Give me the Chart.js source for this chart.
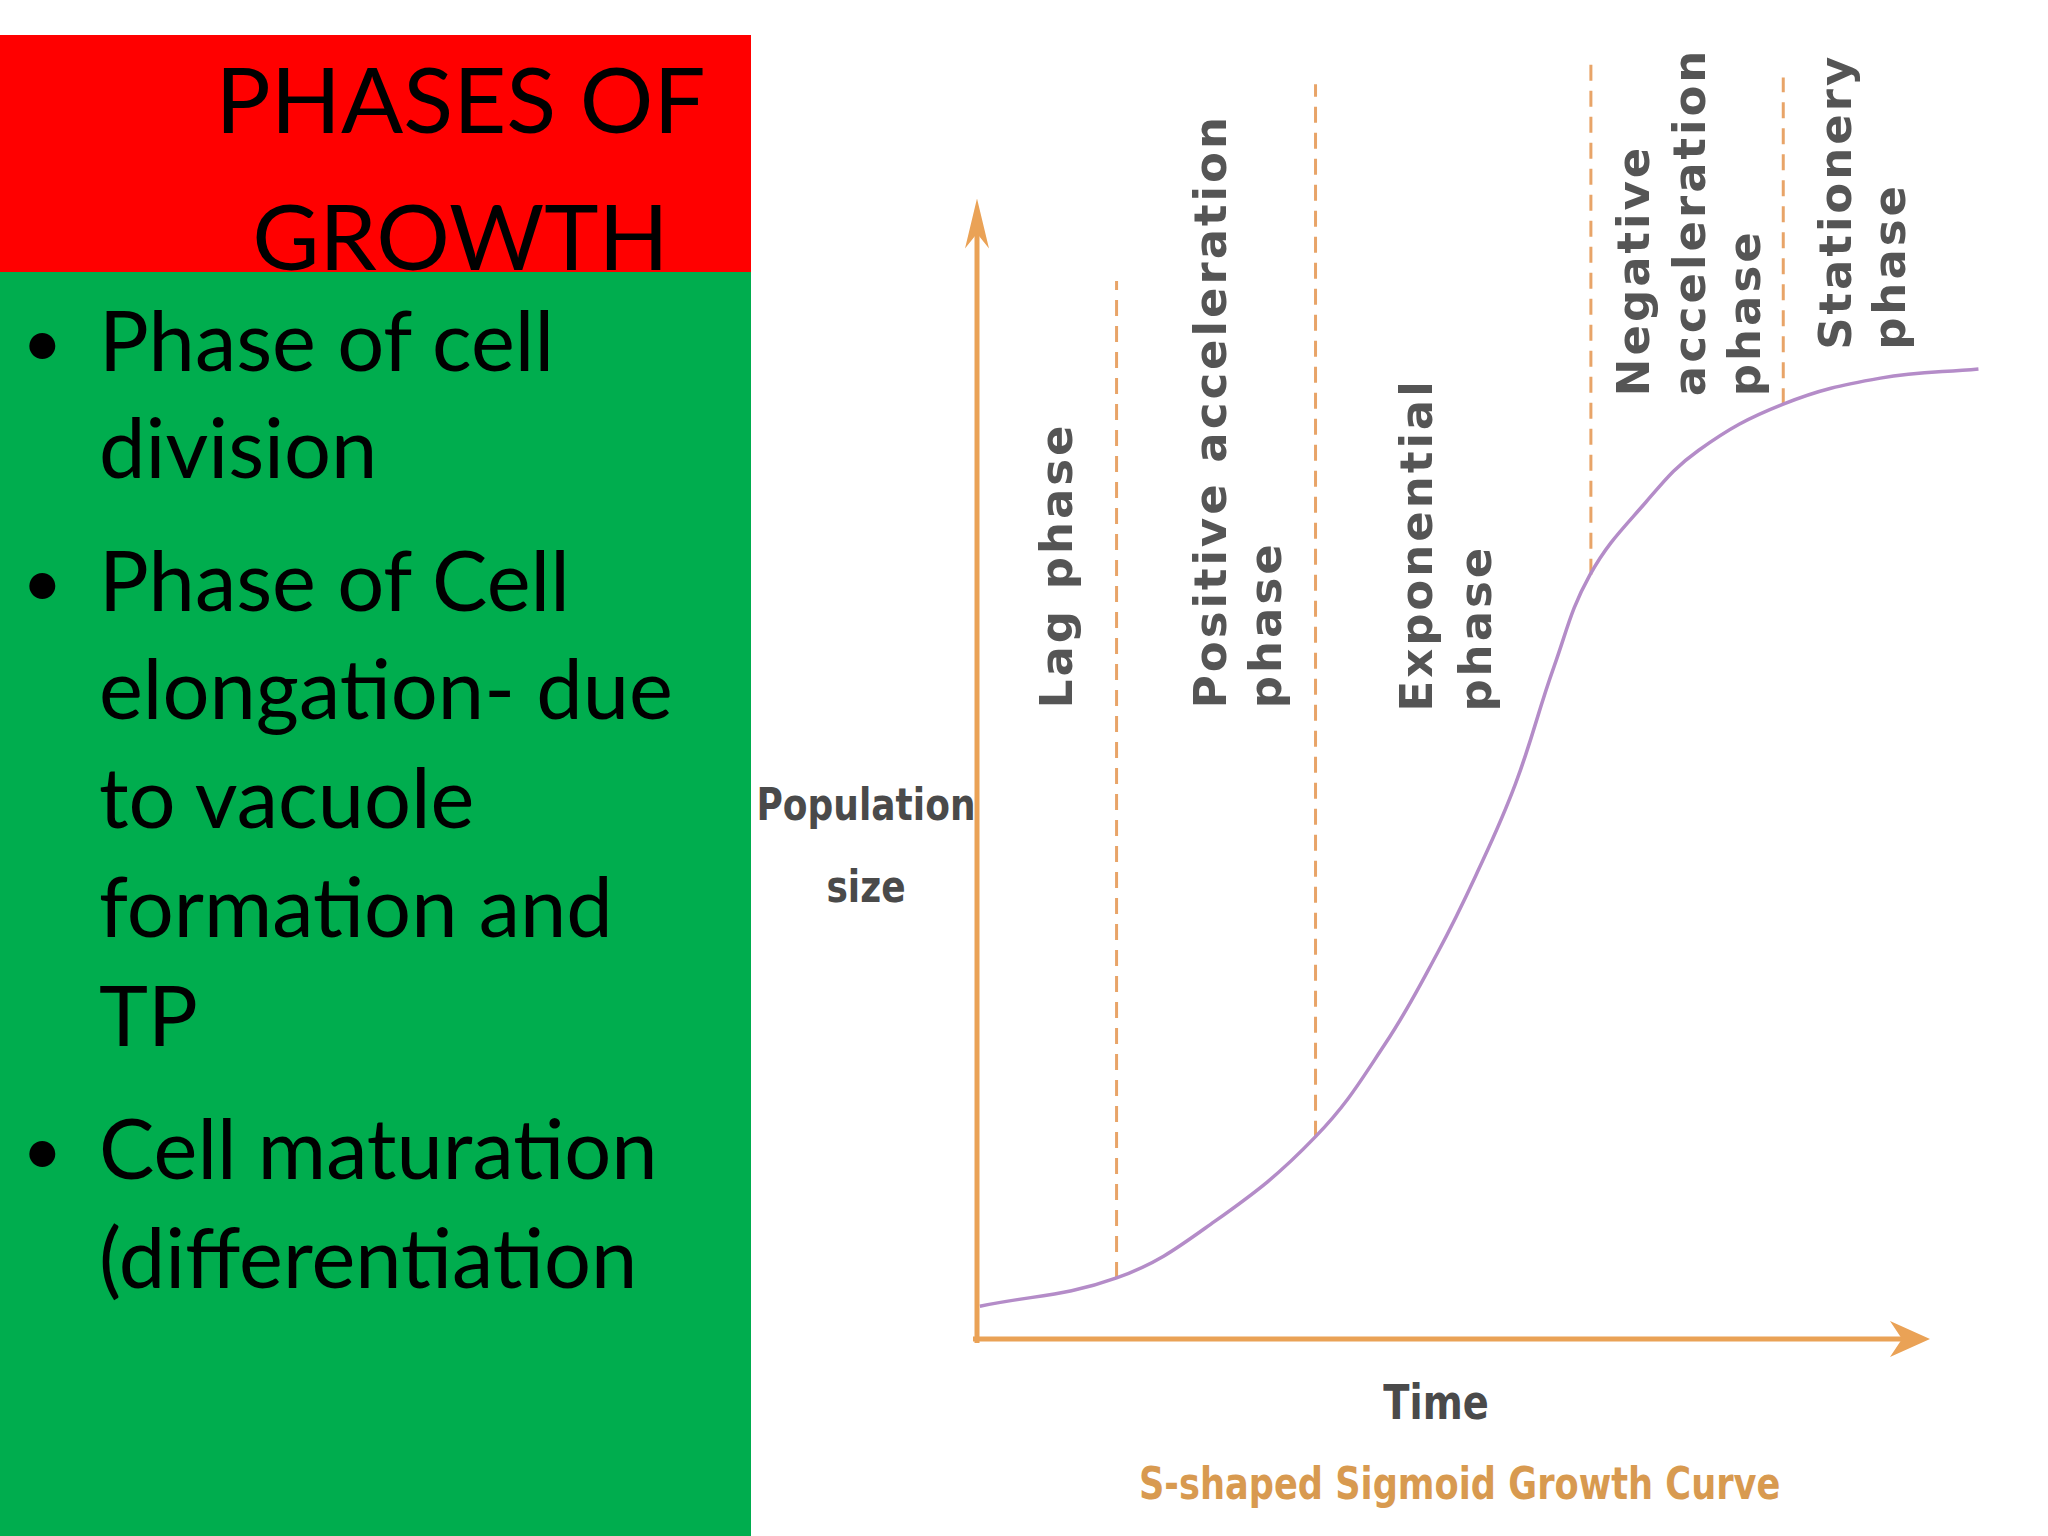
<!DOCTYPE html>
<html><head><meta charset="utf-8">
<script src="https://cdn.jsdelivr.net/npm/chart.js@4"></script>
<style>
body{margin:0;width:2048px;height:1536px;background:#fff;position:relative;overflow:hidden;font-family:Lato,"Open Sans",sans-serif}
#red{position:absolute;left:0;top:35px;width:751px;height:237px;background:#ff0000}
#green{position:absolute;left:0;top:272px;width:751px;height:1264px;background:#00ad4e}
.t{position:absolute;white-space:nowrap;color:#000;line-height:1}
.title{font-size:92px;width:751px;left:0;text-align:center;padding-left:170px;box-sizing:border-box}
.b{font-size:83px;left:99px}
.dot{font-size:70px;left:22px}
.lab{position:absolute;color:#4a4a4a;font-family:"DejaVu Sans",sans-serif;font-weight:bold;line-height:1;white-space:nowrap;text-align:center;transform:scaleX(0.8)}
#c{position:absolute;left:957px;top:19px}
</style></head><body>
<div id="red"></div><div id="green"></div>
<div class="t title" style="top:52px">PHASES OF</div>
<div class="t title" style="top:189px">GROWTH</div>
<div class="t dot" style="top:305px">•</div>
<div class="t b" style="top:298px">Phase of cell</div>
<div class="t b" style="top:405px">division</div>
<div class="t dot" style="top:545px">•</div>
<div class="t b" style="top:538px">Phase of Cell</div>
<div class="t b" style="top:646px">elongation- due</div>
<div class="t b" style="top:755px">to vacuole</div>
<div class="t b" style="top:864px">formation and</div>
<div class="t b" style="top:973px">TP</div>
<div class="t dot" style="top:1113px">•</div>
<div class="t b" style="top:1106px">Cell maturation</div>
<div class="t b" style="top:1215px">(differentiation</div>
<div class="lab" style="left:716px;top:764px;width:300px;font-size:45px;line-height:82px">Population<br>size</div>
<div class="lab" style="left:1336px;top:1378px;width:200px;font-size:48px">Time</div>
<div class="lab" style="left:1059px;top:1462px;width:800px;font-size:44px;color:#d89a50">S-shaped Sigmoid Growth Curve</div>
<canvas id="c" width="1049" height="1340"></canvas>
<script>
const timeValues=[0.3,14.8,25.2,35.9,43.2,48.8,52.9,57.1,61.2,65.0,70.9,76.5,85.5,95.8,106.2];
const populationValues=[2.9,5.4,10.4,17.9,26,34.1,41,49.1,59.5,67.6,74,78.6,82.7,85,85.8];
const boundaryX=[14.8,35.9,65.1,85.5];
const boundaryTop=[93.6,111,113.3,111.6];
const boundaryBottom=[5.4,17.9,67.6,82.7];
const phaseLabels=[["Lag phase"],["Positive acceleration","phase"],["Exponential","phase"],["Negative","acceleration","phase"],["Stationery","phase"]];

const P=20;
const cv=document.getElementById('c');
const datasets=[{data:timeValues.map((x,i)=>({x,y:populationValues[i]})),borderColor:'#b48cc8',borderWidth:3.5,pointRadius:0,tension:0.4}];
boundaryX.forEach((x,i)=>datasets.push({data:[{x,y:boundaryBottom[i]},{x,y:boundaryTop[i]}],borderColor:'#e8a468',borderWidth:3,borderDash:[16,10],pointRadius:0}));
const labelPos=[{x:[8.8],y:55.8},{x:[25.2,31],y:55.8},{x:[47,53.3],y:55.5},{x:[70,76,81.8],y:83.4},{x:[91.4,97.2],y:87.5}];
const deco={id:'deco',afterDatasetsDraw(ch){
  const c=ch.ctx,xs=ch.scales.x,ys=ch.scales.y;
  const x0=xs.getPixelForValue(0),y0=ys.getPixelForValue(0),yt=ys.getPixelForValue(100),xe=xs.getPixelForValue(100);
  c.save();c.strokeStyle='#eaa256';c.fillStyle='#eaa256';c.lineWidth=5;
  c.beginPath();c.moveTo(x0,y0+4);c.lineTo(x0,yt+10);c.stroke();
  c.beginPath();c.moveTo(x0-4,y0);c.lineTo(xe-10,y0);c.stroke();
  c.beginPath();c.moveTo(x0,yt-10);c.lineTo(x0-12,yt+40);c.lineTo(x0,yt+25);c.lineTo(x0+12,yt+40);c.closePath();c.fill();
  c.beginPath();c.moveTo(xe+10,y0);c.lineTo(xe-30,y0-18);c.lineTo(xe-18,y0);c.lineTo(xe-30,y0+18);c.closePath();c.fill();
  c.fillStyle='#555';c.font='bold 45px "DejaVu Sans", sans-serif';c.letterSpacing='3px';c.textAlign='left';c.textBaseline='middle';
  phaseLabels.forEach((lines,i)=>lines.forEach((t,j)=>{
    c.save();c.translate(xs.getPixelForValue(labelPos[i].x[j]),ys.getPixelForValue(labelPos[i].y));c.rotate(-Math.PI/2);c.fillText(t,0,0);c.restore();}));
  c.restore();}};
new Chart(cv,{type:'line',data:{datasets},plugins:[deco],options:{responsive:false,animation:false,devicePixelRatio:1,
  layout:{padding:P},plugins:{legend:{display:false},tooltip:{enabled:false}},
  scales:{x:{type:'linear',min:0,max:107,display:false},y:{min:0,max:115,display:false}}}});
</script>
</body></html>
